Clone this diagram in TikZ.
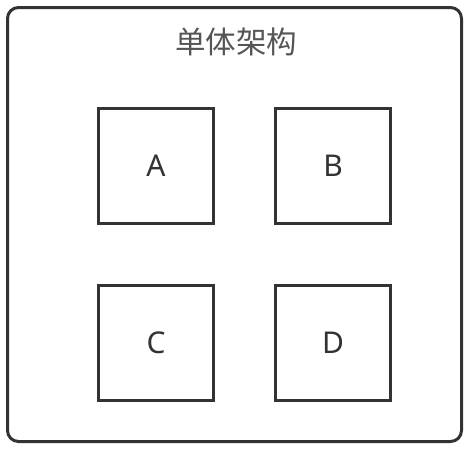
\documentclass[tikz,border=0pt]{standalone}
\usepackage{fontspec}
\setmainfont{Noto Sans}
\newfontfamily\cjk{Noto Sans CJK SC}
\definecolor{edge}{HTML}{333333}
\definecolor{titlec}{HTML}{555555}
\begin{document}
\begin{tikzpicture}[x=1pt,y=-1pt,
  outerbox/.style={draw=edge,line width=3pt,rounded corners=11pt},
  itembox/.style={draw=edge,line width=3pt,minimum width=115pt,minimum height=115pt,inner sep=0pt,font=\fontsize{30}{34}\selectfont,text=edge},
  titletext/.style={font=\cjk\fontsize{30.5}{34}\selectfont,text=titlec}]
\useasboundingbox[fill=white] (0,0) rectangle (474,455);
\node[outerbox,minimum width=454pt,minimum height=434pt,inner sep=0pt] (outer) at (234.5,224.5) {};
\node[titletext] (title) at (236,42) {单体架构};
\node[itembox] (A) at (156,166) {A};
\node[itembox] (B) at (333,166) {B};
\node[itembox] (C) at (156,343) {C};
\node[itembox] (D) at (333,343) {D};
\end{tikzpicture}
\end{document}
